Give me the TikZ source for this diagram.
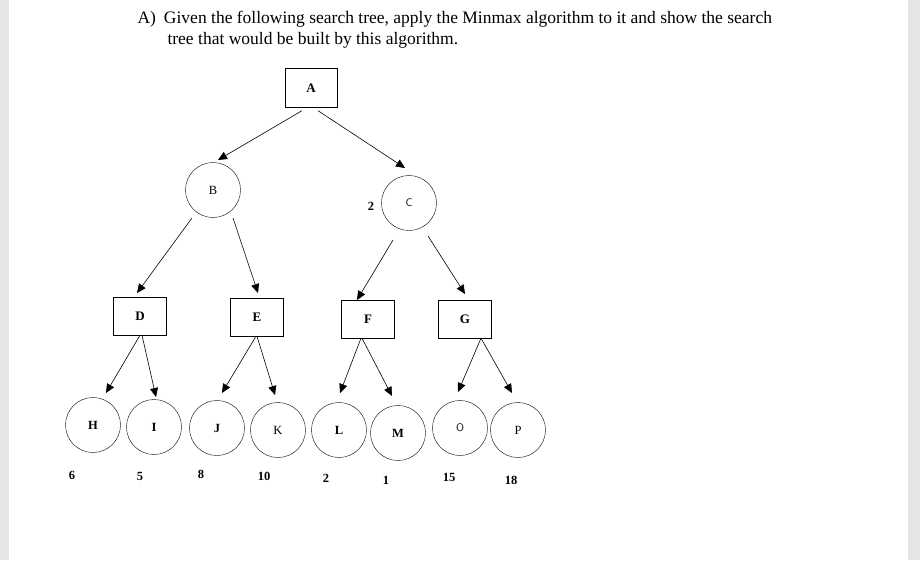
\documentclass[tikz,border=0pt]{standalone}
\usepackage{fontspec}
\setmainfont{Liberation Serif}
\usetikzlibrary{arrows.meta,calc}
\begin{document}
\begin{tikzpicture}[x=1pt,y=-1pt,
  sq/.style={draw,minimum width=53pt,minimum height=38pt,inner sep=0pt,font=\fontsize{13}{14}\selectfont\bfseries},
  ci/.style={draw,circle,minimum size=55pt,inner sep=0pt,font=\fontsize{12.5}{14}\selectfont},
  cib/.style={ci,font=\fontsize{12.5}{14}\selectfont\bfseries},
  cis/.style={ci,font=\fontsize{11}{14}\selectfont\sffamily},
  val/.style={font=\fontsize{12.5}{14}\selectfont\bfseries},
  ar/.style={-{Triangle[length=9pt,width=8pt]},line width=0.6pt}]
\fill[gray!20] (0,0) rectangle (920,560);
\fill[white] (9,0) rectangle (908,560);
\useasboundingbox (0,0) rectangle (920,560);
\node[anchor=west,font=\fontsize{17.5}{20}\selectfont] (t1) at (134,19) {A)\hspace{8pt}Given the following search tree, apply the Minmax algorithm to it and show the search};
\node[anchor=west,font=\fontsize{17.5}{20}\selectfont] (t2) at (164,40) {tree that would be built by this algorithm.};
\node[sq,minimum width=52pt,minimum height=39pt] (A) at (311,88) {A};
\node[ci] (B) at (213,190) {B};
\node[cis] (C) at (409,203) {C};
\node[val] (c2) at (371,206) {2};
\node[sq] (D) at (140,316) {D};
\node[sq] (E) at (257,317) {E};
\node[sq] (F) at (368,319) {F};
\node[sq] (G) at (465,319) {G};
\node[cib] (H) at (93,425) {H};
\node[cib] (I) at (154,427) {I};
\node[cib] (J) at (217,428) {J};
\node[ci] (K) at (278,430) {K};
\node[cib] (L) at (339,430) {L};
\node[cib] (M) at (398,433) {M};
\node[cis] (O) at (460,428) {O};
\node[ci] (P) at (518,430) {P};
\node[val] (v6) at (72,475) {6};
\node[val] (v5) at (140,476) {5};
\node[val] (v8) at (201,474) {8};
\node[val] (v10) at (264,476) {10};
\node[val] (v2) at (326,478) {2};
\node[val] (v1) at (386,480) {1};
\node[val] (v15) at (449,477) {15};
\node[val] (v18) at (511,480) {18};
\draw[ar] ($(A.south)+(-9,3)$) -- ($(B)+(5,-30)$);
\draw[ar] ($(A.south)+(7,3)$) -- ($(C)+(-4,-35)$);
\draw[ar] ($(B)+(-21,28)$) -- ($(D)+(-3,-23)$);
\draw[ar] ($(B)+(20,28)$) -- ($(E)+(1,-24)$);
\draw[ar] ($(C)+(-16,37)$) -- ($(F)+(-11,-19)$);
\draw[ar] ($(C)+(19,33)$) -- ($(G)+(0,-25)$);
\draw[ar] ($(D.south)+(0,0)$) -- ($(H)+(13,-32)$);
\draw[ar] ($(D.south)+(2,0)$) -- ($(I)+(2,-30)$);
\draw[ar] ($(E.south)+(-1,0)$) -- ($(J)+(5,-35)$);
\draw[ar] ($(E.south)+(0,0)$) -- ($(K)+(-3,-35)$);
\draw[ar] ($(F.south)+(-7,0)$) -- ($(L)+(1,-37)$);
\draw[ar] ($(F.south)+(-6,0)$) -- ($(M)+(-6,-37)$);
\draw[ar] ($(G.south)+(16,0)$) -- ($(O)+(-2,-36)$);
\draw[ar] ($(G.south)+(16,0)$) -- ($(P)+(-6,-37)$);
\end{tikzpicture}
\end{document}
